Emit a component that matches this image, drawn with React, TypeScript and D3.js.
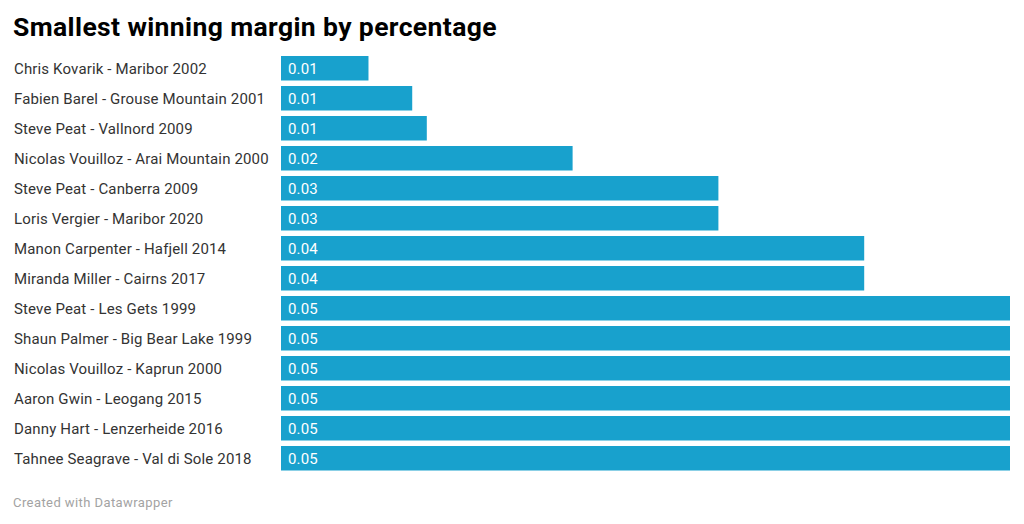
import React from "react";
import * as d3 from "d3";

const names = [
  "Chris Kovarik - Maribor 2002",
  "Fabien Barel - Grouse Mountain 2001",
  "Steve Peat - Vallnord 2009",
  "Nicolas Vouilloz - Arai Mountain 2000",
  "Steve Peat - Canberra 2009",
  "Loris Vergier - Maribor 2020",
  "Manon Carpenter - Hafjell 2014",
  "Miranda Miller - Cairns 2017",
  "Steve Peat - Les Gets 1999",
  "Shaun Palmer - Big Bear Lake 1999",
  "Nicolas Vouilloz - Kaprun 2000",
  "Aaron Gwin - Leogang 2015",
  "Danny Hart - Lenzerheide 2016",
  "Tahnee Seagrave - Val di Sole 2018",
];
const margins = [0.006, 0.009, 0.01, 0.02, 0.03, 0.03, 0.04, 0.04, 0.05, 0.05, 0.05, 0.05, 0.05, 0.05];

const W = 1024;
const H = 524;
const FONT = "Roboto, 'Noto Sans', sans-serif";

export default function App() {
  const x = d3.scaleLinear().domain([0, 0.05]).range([281, 1010]);
  const y = d3
    .scaleBand<string>()
    .domain(names)
    .range([53.25, 53.25 + 30 * names.length])
    .paddingInner(0.1833)
    .paddingOuter(0.0917);
  const fmt = d3.format(".2f");
  return (
    <div style={{ position: "absolute", left: 0, top: 0 }}>
      <svg width={W} height={H} style={{ display: "block", background: "#fff" }}>
        <text x={13} y={36} fontFamily={FONT} fontWeight={700} fontSize={26.5} letterSpacing={0.38} fill="#000">
          Smallest winning margin by percentage
        </text>
        {names.map((n, i) => {
          const yy = y(n)!;
          const bh = y.bandwidth();
          const cy = yy + bh / 2;
          return (
            <g key={n}>
              <text x={14} y={cy + 5.5} fontFamily={FONT} fontSize={15} letterSpacing={0.15} fill="#333">
                {n}
              </text>
              <rect x={x(0)} y={yy} width={x(margins[i]) - x(0)} height={bh} fill="#18a1cd" />
              <text x={x(0) + 7} y={cy + 5.5} fontFamily={FONT} fontSize={15} letterSpacing={0.15} fill="#fff">
                {fmt(margins[i])}
              </text>
            </g>
          );
        })}
        <text x={13} y={507} fontFamily={FONT} fontSize={13} letterSpacing={0.42} fill="#a3a3a3">
          Created with Datawrapper
        </text>
      </svg>
    </div>
  );
}
